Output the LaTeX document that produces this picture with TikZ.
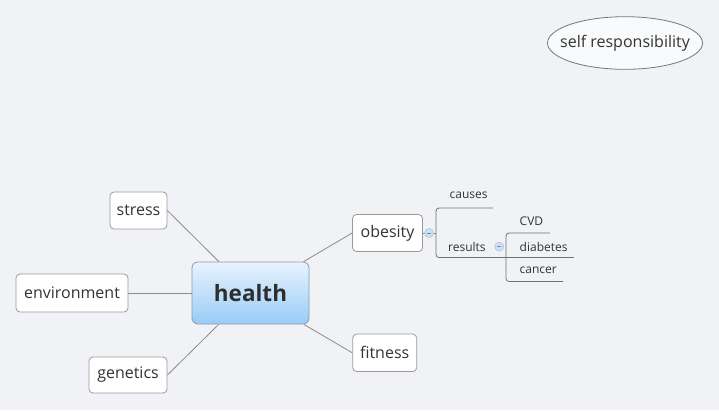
\documentclass[tikz,border=0pt]{standalone}
\usepackage{fontspec}
\setmainfont{Open Sans}
\usetikzlibrary{shapes.geometric}
\definecolor{bg}{HTML}{F0F2F6}
\definecolor{txt}{HTML}{333333}
\definecolor{nodeborder}{HTML}{9A9A9A}
\definecolor{conn}{HTML}{8C8C8C}
\definecolor{htop}{HTML}{E8F4FD}
\definecolor{hbot}{HTML}{99CBF7}
\definecolor{hborder}{HTML}{8A9BB0}
\definecolor{cfill}{HTML}{CFE0F2}
\definecolor{cborder}{HTML}{A9C3DE}
\tikzset{
  topic/.style={draw=nodeborder, fill=white, rounded corners=4pt, inner sep=0pt,
    text=txt, font=\fontsize{16}{19}\selectfont, line width=0.8pt},
  central/.style={draw=hborder, rounded corners=6pt, inner sep=0pt, top color=htop,
    bottom color=hbot, text=txt!90!black, font=\fontsize{22.5}{26}\selectfont\bfseries, line width=0.8pt},
  floating/.style={ellipse, draw=conn!85!black, fill=white!60!bg, inner sep=0pt, text=txt,
    font=\fontsize{16}{19}\selectfont, line width=0.8pt},
  sub/.style={inner sep=0pt, anchor=west, text=txt, font=\fontsize{12}{14}\selectfont},
  conn/.style={draw=conn, line width=0.8pt},
  brk/.style={draw=conn!80!black, line width=0.8pt, rounded corners=3pt},
  fold/.style={circle, draw=cborder, fill=cfill, minimum size=9pt, inner sep=0pt, line width=0.6pt}
}
\begin{document}
\begin{tikzpicture}[x=1pt,y=-1pt]
\fill[bg] (0,0) rectangle (719,410);
\useasboundingbox (0,0) rectangle (719,410);

\node[central, minimum width=117pt, minimum height=62pt] (health) at (250.5,293) {health};
\node[topic, minimum width=57pt, minimum height=37pt] (stress) at (138.5,210.5) {stress};
\node[topic, minimum width=112pt, minimum height=38pt] (env) at (72,293) {environment};
\node[topic, minimum width=78pt, minimum height=36pt] (gen) at (128,375) {genetics};
\node[topic, minimum width=70pt, minimum height=37pt] (obesity) at (387.5,233) {obesity};
\node[topic, minimum width=64pt, minimum height=37.5pt] (fitness) at (384.7,352.8) {fitness};
\node[floating, minimum width=155pt, minimum height=52.6pt] (self) at (625,43) {\makebox[0pt]{self responsibility}};

\draw[conn] (stress.east) -- (health);
\draw[conn] (env.east) -- (health);
\draw[conn] (gen.east) -- (health);
\draw[conn] (obesity.west) -- (health);
\draw[conn] (fitness.west) -- (health);

% sub topics
\node[sub] (causes) at (449.5,195.5) {causes};
\node[sub] (results) at (448,246.5) {results};
\node[sub] (cvd) at (519.5,221.5) {CVD};
\node[sub] (diab) at (519.5,246.5) {diabetes};
\node[sub] (cancer) at (519.5,270.5) {cancer};

\coordinate (b1) at (436,233);
\coordinate (b2) at (506,257.5);
\draw[conn] (obesity.east) -- (b1);
\draw[brk] (493,208) -- (436,208) -- (436,257.5) -- (506,257.5);
\draw[brk] (550,233) -- (506,233) -- (506,281.5) -- (563,281.5);
\draw[brk] (b2) -- (574,257.5);

\node[fold] (f1) at (429,233) {};
\draw[cborder!70!black, line width=0.6pt] ([xshift=-2pt]f1.center) -- ([xshift=2pt]f1.center);
\node[fold] (f2) at (499.3,246.7) {};
\draw[cborder!70!black, line width=0.6pt] ([xshift=-2pt]f2.center) -- ([xshift=2pt]f2.center);
\end{tikzpicture}
\end{document}
